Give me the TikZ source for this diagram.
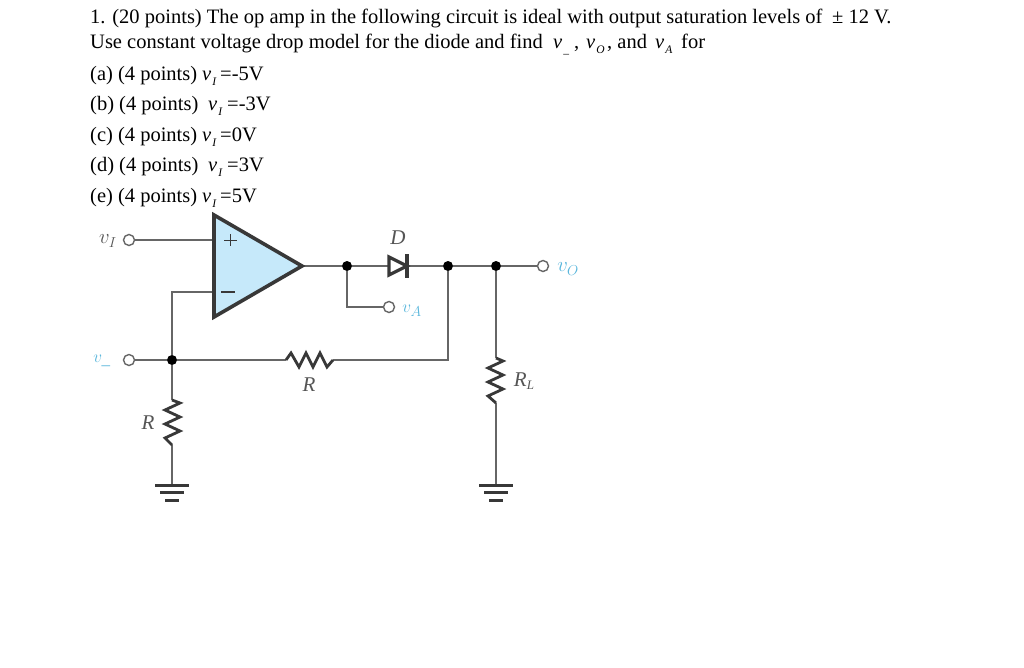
\documentclass[tikz,border=0pt]{standalone}
\usepackage{fontspec}
\setmainfont{Liberation Serif}
\usetikzlibrary{calc}
\definecolor{wirec}{HTML}{666666}
\definecolor{darkc}{HTML}{383838}
\definecolor{ampfill}{HTML}{C6E9FA}
\definecolor{labc}{HTML}{58B6DC}
\definecolor{greyt}{HTML}{555555}
\newcommand{\vsub}[1]{\textit{v}\kern1pt\raisebox{-5pt}{\fontsize{11.5}{12}\selectfont\textit{#1}}}
\tikzset{
  x=1pt,y=-1pt,
  para/.style={anchor=base west,inner sep=0pt,font=\fontsize{20.5}{24}\selectfont,text=black},
  wire/.style={draw=wirec,line width=1.8pt},
  res/.style={draw=darkc,line width=2.8pt,line join=miter},
  gnd/.style={draw=darkc,line width=3pt},
  dot/.style={circle,fill=black,inner sep=0pt,minimum size=10pt},
  term/.style={circle,draw=wirec,fill=white,line width=1.4pt,inner sep=0pt,minimum size=11pt},
  lab/.style={inner sep=0pt,text=greyt,font=\fontsize{21}{24}\selectfont},
  cyanlab/.style={lab,text=labc},
}
\begin{document}
\begin{tikzpicture}
\useasboundingbox (0,0) rectangle (1024,667);
\fill[white] (0,0) rectangle (1024,667);
% text
\node[para] (l1) at (90,23) {1. (20 points) The op amp in the following circuit is ideal with output saturation levels of};
\node[para] (l1b) at (832,23) {± 12 V.};
\node[para] (l2) at (90,48) {Use constant voltage drop model for the diode and find};
\node[para] (l2a) at (553,48) {\vsub{\_}};
\node[para] (l2b) at (574,48) {,};
\node[para] (l2c) at (586,48) {\vsub{O}};
\node[para] (l2d) at (607,48) {, and};
\node[para] (l2e) at (655,48) {\vsub{A}};
\node[para] (l2f) at (681,48) {for};
\node[para] (la) at (90,80) {(a) (4 points)};
\node[para] (lav) at (202,80) {\vsub{I}};
\node[para] (lat) at (220,80) {=-5V};
\node[para] (lb) at (90,110) {(b) (4 points)};
\node[para] (lbv) at (208,110) {\vsub{I}};
\node[para] (lbt) at (227,110) {=-3V};
\node[para] (lc) at (90,141) {(c) (4 points)};
\node[para] (lcv) at (202,141) {\vsub{I}};
\node[para] (lct) at (220,141) {=0V};
\node[para] (ld) at (90,171) {(d) (4 points)};
\node[para] (ldv) at (208,171) {\vsub{I}};
\node[para] (ldt) at (227,171) {=3V};
\node[para] (le) at (90,202) {(e) (4 points)};
\node[para] (lev) at (202,202) {\vsub{I}};
\node[para] (let) at (220,202) {=5V};
% key points
\coordinate (ampTL) at (214,215);
\coordinate (ampBL) at (214,317);
\coordinate (ampO) at (302,266);
\coordinate (ampP) at (214,240);
\coordinate (ampM) at (214,292);
\node[term] (vi) at (129,240) {};
\node[term] (vm) at (129,360) {};
\node[dot] (jm) at (172,360) {};
\node[dot] (ja) at (347,266) {};
\node[dot] (jf) at (448,266) {};
\node[dot] (jo) at (496,266) {};
\node[term] (vo) at (543,266) {};
\node[term] (va) at (389,307) {};
\coordinate (rhl) at (286,360);
\coordinate (rhr) at (333,360);
\coordinate (rvt) at (172,400);
\coordinate (rvb) at (172,445);
\coordinate (rlt) at (496,358);
\coordinate (rlb) at (496,403);
\coordinate (g1) at (172,485);
\coordinate (g2) at (496,485);
\coordinate (dl) at (389,266);
\coordinate (dr) at (407,266);
% wires
\draw[wire] (vi) -- (ampP);
\draw[wire] (vm) -- (jm) -- (rhl);
\draw[wire] (ampM) -| (jm);
\draw[wire] (jm) -- (rvt);
\draw[wire] (rvb) -- (g1);
\draw[wire] (ampO) -- (ja) -- (dl);
\draw[wire] (dr) -- (jf) -- (jo) -- (vo);
\draw[wire] (ja) |- (va);
\draw[wire] (rhr) -| (jf);
\draw[wire] (jo) -- (rlt);
\draw[wire] (rlb) -- (g2);
% op amp
\draw[fill=ampfill,draw=darkc,line width=3.6pt,line join=miter] (ampTL) -- (ampO) -- (ampBL) -- cycle;
\draw[darkc,line width=1pt] (224,240) -- (237,240) (230.5,234) -- (230.5,246);
\draw[darkc,line width=1.2pt] (221,292) -- (235,292);
% resistors
\draw[res] (rhl) -- ++(5,-7) -- ++(8,14) -- ++(7,-14) -- ++(7,14) -- ++(7,-14) -- ++(7,14) -- (rhr);
\draw[res] (rvt) -- ++(8,3) -- ++(-15,7) -- ++(15,7) -- ++(-15,7) -- ++(15,7) -- ++(-15,7) -- ++(7,7) ;
\draw[res] (rlt) -- ++(7,3) -- ++(-15,7) -- ++(15,7) -- ++(-15,7) -- ++(15,7) -- ++(-15,7) -- ++(8,7);
% diode
\draw[draw=darkc,line width=3.2pt,line join=miter,fill=white] (dl) ++(0,-9) -- (dr) -- ++(-18,9) -- cycle;
\draw[darkc,line width=3.2pt] ($(dr)+(0,-12)$) -- ($(dr)+(0,12)$);
% grounds
\draw[gnd] ($(g1)+(-17,0)$) -- ($(g1)+(17,0)$) ($(g1)+(-12,7)$) -- ($(g1)+(12,7)$) ($(g1)+(-7,15)$) -- ($(g1)+(7,15)$);
\draw[gnd] ($(g2)+(-17,0)$) -- ($(g2)+(17,0)$) ($(g2)+(-12,7)$) -- ($(g2)+(12,7)$) ($(g2)+(-7,15)$) -- ($(g2)+(7,15)$);
% labels
\node[lab] (tvi) at (108,241) {$v_{I}$};
\node[cyanlab] (tvm) at (102,361) {\fontsize{17}{17}\selectfont$v_{\_}$};
\node[lab] (td) at (398,238) {\textit{D}};
\node[cyanlab] (tvo) at (568,269) {\fontsize{22}{22}\selectfont$v_O$};
\node[cyanlab] (tva) at (412,311) {\fontsize{19}{19}\selectfont$v_A$};
\node[lab] (tr1) at (309,385) {\textit{R}};
\node[lab] (tr2) at (148,423) {\textit{R}};
\node[lab] (trl) at (524,381) {\textit{R}\raisebox{-3pt}{\fontsize{13}{13}\selectfont\textit{L}}};
\end{tikzpicture}
\end{document}
